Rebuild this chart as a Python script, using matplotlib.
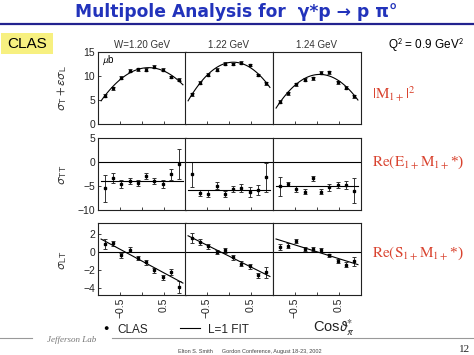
import numpy as np
import matplotlib
matplotlib.use("Agg")
import matplotlib.pyplot as plt
from matplotlib.lines import Line2D
from matplotlib.patches import Rectangle

plt.rcParams['font.family'] = ['Liberation Sans', 'DejaVu Sans']
plt.rcParams['mathtext.fontset'] = 'stixsans'

W, H = 474, 355

# cos(theta*) bins, same for every panel
cos_bins = [-0.85, -0.66, -0.47, -0.28, -0.09, 0.09, 0.28, 0.47, 0.66, 0.85]
energies = ["W=1.20 GeV", "1.22 GeV", "1.24 GeV"]

# sigma_T + eps sigma_L  (mub)
sig_120 = [5.9, 7.4, 9.6, 11.1, 11.4, 11.3, 11.9, 11.3, 9.8, 9.2]
sig_122 = [6.2, 8.6, 10.3, 11.3, 12.6, 12.5, 12.8, 12.3, 10.2, 8.5]
sig_124 = [4.6, 6.4, 8.3, 9.2, 9.5, 10.7, 10.8, 8.7, 7.6, 5.8]
sig_err = [0.3] * 10

# sigma_TT
tt_120 = [-5.5, -3.3, -4.6, -4.0, -4.3, -2.9, -3.9, -4.6, -2.6, -0.4]
tt_120_err = [2.8, 1.0, 0.8, 0.6, 0.6, 0.55, 0.65, 0.9, 1.15, 3.2]
tt_122 = [-2.6, -6.4, -6.6, -4.9, -6.6, -5.7, -5.5, -6.2, -5.8, -3.2]
tt_122_err = [2.7, 0.65, 0.7, 0.7, 0.6, 0.6, 0.85, 1.0, 1.1, 3.05]
tt_124 = [-5.1, -4.6, -5.6, -6.2, -3.4, -6.2, -5.3, -4.8, -4.8, -6.0]
tt_124_err = [2.0, 0.5, 0.65, 0.5, 0.5, 0.55, 0.7, 0.7, 0.9, 2.6]

# sigma_LT
lt_120 = [0.85, 0.96, -0.41, 0.22, -0.74, -1.15, -2.07, -2.81, -2.26, -3.93]
lt_120_err = [0.54, 0.26, 0.28, 0.26, 0.22, 0.28, 0.28, 0.28, 0.37, 0.65]
lt_122 = [1.52, 1.1, 0.6, -0.04, 0.17, -0.63, -1.33, -1.63, -2.63, -2.26]
lt_122_err = [0.55, 0.3, 0.25, 0.25, 0.25, 0.25, 0.28, 0.28, 0.3, 0.6]
lt_124 = [0.52, 0.7, 1.15, 0.3, 0.3, 0.18, -0.41, -1.0, -1.44, -1.07]
lt_124_err = [0.37, 0.25, 0.22, 0.2, 0.2, 0.2, 0.22, 0.25, 0.28, 0.5]

# L=1 fit, coefficients c0 + c1*x + c2*x^2
fit_sig = [[11.6, 1.8, -5.9], [12.8, 1.5, -7.6], [10.3, 0.9, -7.1]]
fit_tt = [[-3.9], [-5.9], [-5.1]]
fit_lt = [[-1.03, -2.63], [-0.48, -2.43], [0.0, -1.53]]
fit_range = (-0.93, 0.93)

rows = [
    dict(vals=[sig_120, sig_122, sig_124], errs=[sig_err] * 3, fits=fit_sig,
         ylim=(0, 15), yticks=[0, 5, 10, 15], zero=False),
    dict(vals=[tt_120, tt_122, tt_124], errs=[tt_120_err, tt_122_err, tt_124_err], fits=fit_tt,
         ylim=(-10, 5), yticks=[-10, -5, 0, 5], zero=True),
    dict(vals=[lt_120, lt_122, lt_124], errs=[lt_120_err, lt_122_err, lt_124_err], fits=fit_lt,
         ylim=(-4.8, 3.2), yticks=[-4, -2, 0, 2], zero=True),
]
row_tops = [52, 138, 223]
col_lefts = [98, 185, 273]
pw, ph = 88, 72


def fx(x):
    return x / W


def fy(y):
    return 1 - y / H


fig = plt.figure(figsize=(W / 100, H / 100), dpi=100)

for r, row in enumerate(rows):
    for c in range(3):
        ax = fig.add_axes([fx(col_lefts[c]), fy(row_tops[r] + ph), pw / W, ph / H])
        ax.errorbar(cos_bins, row['vals'][c], yerr=row['errs'][c], fmt='s', ms=2.1,
                    color='black', ecolor='#333333', elinewidth=0.7, capsize=1.5, capthick=0.7)
        xs = np.linspace(fit_range[0], fit_range[1], 80)
        ax.plot(xs, np.polynomial.polynomial.polyval(xs, row['fits'][c]), color='black', lw=0.8)
        if row['zero']:
            ax.axhline(0, color='black', lw=0.8)
        ax.set_xlim(-1, 1)
        ax.set_ylim(*row['ylim'])
        ax.set_xticks([-0.5, 0, 0.5])
        ax.set_yticks(row['yticks'])
        ax.tick_params(direction='in', length=2.5, width=0.6, labelsize=7.5, colors='#222222', pad=2)
        if r == 2:
            ax.set_xticklabels(['\u22120.5', '', '0.5'], rotation=90)
        else:
            ax.set_xticklabels([])
        if c == 0:
            ax.set_yticklabels([str(t).replace('-', '\u2212') for t in row['yticks']])
        else:
            ax.set_yticklabels([])
            ax.tick_params(axis='y', length=0)
        for s in ax.spines.values():
            s.set_linewidth(0.8)
            s.set_color('#222222')
        if r == 0:
            ax.text(0.5, 1.03, energies[c], transform=ax.transAxes, ha='center', va='bottom',
                    fontsize=7, color='#333333')
            if c == 0:
                ax.text(0.05, 0.88, r'$\mu$b', transform=ax.transAxes, fontsize=7, va='center')

# y labels
fig.text(fx(62), fy(88), r'$\sigma_{\rm T}+\varepsilon\sigma_{\rm L}$', rotation=90,
         ha='center', va='center', fontsize=9, color='#333333')
fig.text(fx(63), fy(175), r'$\sigma_{\rm TT}$', rotation=90, ha='center', va='center',
         fontsize=9, color='#333333')
fig.text(fx(63), fy(260), r'$\sigma_{\rm LT}$', rotation=90, ha='center', va='center',
         fontsize=9, color='#333333')

# slide title and decorations
fig.text(fx(236), fy(12), 'Multipole Analysis for  \u03b3*p \u2192 p \u03c0\u00b0', ha='center',
         va='center', fontsize=12.3, fontweight='bold', color='#2233bb',
         family=['DejaVu Sans'])
fig.add_artist(Line2D([0, 1], [fy(24), fy(24)], color='#22228f', lw=1.6))
fig.add_artist(Rectangle((fx(1), fy(54)), fx(52), 21 / H, color='#f7f080', lw=0))
fig.text(fx(27), fy(44), 'CLAS', ha='center', va='center', fontsize=11, color='black')
fig.text(fx(426), fy(45), 'Q$^{2}$ = 0.9 GeV$^{2}$', ha='center', va='center', fontsize=8.5,
         color='black')

red = '#d9432f'
fig.text(fx(372), fy(94), r'$|\mathrm{M}_{1+}|^{2}$', fontsize=11, color=red, va='center',
         math_fontfamily='stix')
fig.text(fx(372), fy(162), r'$\mathrm{Re(E_{1+}M_{1+}}$*)', fontsize=11, color=red, va='center',
         math_fontfamily='stix', family='Liberation Serif')
fig.text(fx(372), fy(253), r'$\mathrm{Re(S_{1+}M_{1+}}$*)', fontsize=11, color=red, va='center',
         math_fontfamily='stix', family='Liberation Serif')

# legend row
fig.text(fx(106), fy(329), '\u25cf', ha='center', va='center', fontsize=6.5)
fig.text(fx(117), fy(330), 'CLAS', va='center', fontsize=8.5, color='#222222')
fig.add_artist(Line2D([fx(180), fx(200)], [fy(328), fy(328)], color='black', lw=0.8))
fig.text(fx(208), fy(330), 'L=1 FIT', va='center', fontsize=8.5, color='#222222')
fig.text(fx(313), fy(327), r'Cos$\vartheta^{*}_{\pi}$', va='center', fontsize=10.5,
         color='#222222')

# footer
fig.add_artist(Line2D([0, fx(32)], [fy(338), fy(338)], color='#999999', lw=0.8))
fig.add_artist(Line2D([fx(112), 1], [fy(338), fy(338)], color='#999999', lw=0.8))
fig.text(fx(72), fy(340), 'Jefferson Lab', ha='center', va='center', fontsize=6.5,
         style='italic', family='Liberation Serif', color='#777777')
fig.text(fx(250), fy(351), 'Elton S. Smith      Gordon Conference, August 18-23, 2002',
         ha='center', va='center', fontsize=4, color='#444444')
fig.text(fx(470), fy(350), '12', ha='right', va='center', fontsize=8,
         family='Liberation Serif', color='#222222')

fig.savefig('out.png', dpi=100)
